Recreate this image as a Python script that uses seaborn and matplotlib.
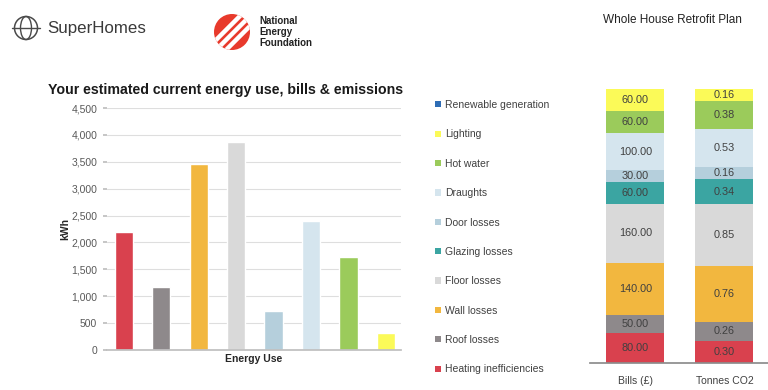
import numpy as np
import pandas as pd
import matplotlib
matplotlib.use("Agg")
import matplotlib.pyplot as plt
import seaborn as sns
from matplotlib.patches import Patch, Circle, Ellipse

sns.set_theme(style="white")
plt.rcParams['font.family'] = ['Liberation Sans', 'DejaVu Sans']

# ---- data ----
use_categories = ["Heating inefficiencies", "Roof losses", "Wall losses", "Floor losses",
                  "Door losses", "Draughts", "Hot water", "Lighting"]
use_kwh = [2200, 1170, 3450, 3870, 720, 2400, 1730, 310]

stack_categories = ["Heating inefficiencies", "Roof losses", "Wall losses", "Floor losses",
                    "Glazing losses", "Door losses", "Draughts", "Hot water", "Lighting"]
bills = [80.00, 50.00, 140.00, 160.00, 60.00, 30.00, 100.00, 60.00, 60.00]
tonnes_co2 = [0.30, 0.26, 0.76, 0.85, 0.34, 0.16, 0.53, 0.38, 0.16]
stack_groups = ["Bills (£)", "Tonnes CO2"]

legend_order = ["Renewable generation", "Lighting", "Hot water", "Draughts", "Door losses",
                "Glazing losses", "Floor losses", "Wall losses", "Roof losses",
                "Heating inefficiencies"]

colors = {
    "Heating inefficiencies": "#d9414e",
    "Roof losses": "#8e898b",
    "Wall losses": "#f2b73f",
    "Floor losses": "#d9d9d9",
    "Glazing losses": "#3ba5a2",
    "Door losses": "#b5cfdc",
    "Draughts": "#d5e5ee",
    "Hot water": "#9bcb5b",
    "Lighting": "#fbfa58",
    "Renewable generation": "#2f6db5",
}

W, H = 768, 390
fig = plt.figure(figsize=(W / 100, H / 100), dpi=100)
fig.patch.set_facecolor("white")

def box(x0, y0, x1, y1):
    # pixel box (top-left origin) -> figure fraction rect
    return [x0 / W, 1 - y1 / H, (x1 - x0) / W, (y1 - y0) / H]

# ---- left: energy use bars ----
ax = fig.add_axes(box(107, 108, 401, 350))
df_use = pd.DataFrame({"category": use_categories, "kwh": use_kwh})
sns.barplot(data=df_use, x="category", y="kwh", hue="category",
            palette=[colors[c] for c in use_categories], legend=False,
            width=0.49, saturation=1, ax=ax)
ax.set_xlim(-0.45, 7.4)
ax.set_ylim(0, 4500)
ax.set_yticks(range(0, 4501, 500))
ax.set_yticklabels([f"{v:,}" for v in range(0, 4501, 500)], fontsize=7.5, color="#595959")
ax.set_xticks([])
ax.yaxis.grid(True, color="#dedede", linewidth=0.8)
ax.set_axisbelow(True)
for s in ["top", "right", "left"]:
    ax.spines[s].set_visible(False)
ax.spines["bottom"].set_color("#bfbfbf")
ax.tick_params(axis="y", length=3, color="#bfbfbf", pad=4, left=True)
ax.set_xlabel("Energy Use", fontsize=7.5, fontweight="bold", color="#262626", labelpad=3)
ax.set_ylabel("kWh", fontsize=7.5, fontweight="bold", color="#262626", labelpad=1)

fig.text(48 / W, 1 - 90 / H, "Your estimated current energy use, bills & emissions",
         fontsize=10.2, fontweight="bold", color="#1a1a1a", va="center", ha="left")

# ---- legend ----
handles = [Patch(facecolor=colors[c], edgecolor="none", label=c) for c in legend_order]
fig.legend(handles=handles, loc="upper left", bbox_to_anchor=(435 / W, 1 - 100 / H),
           frameon=False, fontsize=7.5, labelspacing=1.86, handlelength=0.55,
           handleheight=0.55, handletextpad=0.45, borderpad=0, borderaxespad=0,
           labelcolor="#404040")

# ---- right: 100% stacked bars ----
axr = fig.add_axes(box(590, 89, 768, 363))
df_stack = pd.DataFrame({"Bills (£)": bills, "Tonnes CO2": tonnes_co2}, index=stack_categories)
frac = df_stack / df_stack.sum()
bottoms = frac.cumsum() - frac
xpos = np.arange(len(stack_groups))
for cat in stack_categories:
    bars = axr.bar(xpos, frac.loc[cat].values, bottom=bottoms.loc[cat].values, width=0.65,
                   color=colors[cat], edgecolor="none")
    vals = df_stack.loc[cat].values
    axr.bar_label(bars, labels=[f"{v:.2f}" for v in vals], label_type="center",
                  fontsize=7.8, color="#404040")
axr.set_xlim(-0.51, 1.49)
axr.set_ylim(0, 1)
axr.set_yticks([])
axr.set_xticks(xpos)
axr.set_xticklabels(stack_groups, fontsize=7.5, color="#404040")
axr.tick_params(axis="x", length=0, pad=9)
for s in ["top", "right", "left"]:
    axr.spines[s].set_visible(False)
axr.spines["bottom"].set_color("#8c8c8c")
axr.set_facecolor("none")

# ---- header ----
hdr = fig.add_axes([0, 0, 1, 1], zorder=-1)
hdr.set_xlim(0, W)
hdr.set_ylim(H, 0)
hdr.axis("off")

# SuperHomes globe icon
hdr.add_patch(Circle((26, 28), 11.5, fill=False, edgecolor="#4a4a4a", linewidth=1.1))
hdr.add_patch(Ellipse((26, 28), 11, 23, fill=False, edgecolor="#4a4a4a", linewidth=1.0))
hdr.plot([12, 40], [28, 28], color="#4a4a4a", linewidth=1.0)
fig.text(47 / W, 1 - 28 / H, "SuperHomes", fontsize=12.2, color="#3a3a3a", va="center")

# National Energy Foundation logo
c = Circle((232, 32), 18, facecolor="#e83a2c", edgecolor="none")
hdr.add_patch(c)
for off in [-10, 0, 10]:
    line, = hdr.plot([214 + off, 252 + off], [52, 14], color="white", linewidth=3.2,
                     solid_capstyle="butt")
    line.set_clip_path(c)
fig.text(259 / W, 1 - 32 / H, "National\nEnergy\nFoundation", fontsize=7.0,
         fontweight="bold", color="#222222", va="center", linespacing=1.15)

fig.text(672 / W, 1 - 20 / H, "Whole House Retrofit Plan", fontsize=8.5,
         color="#222222", va="center", ha="center")

fig.savefig("out.png", dpi=100, facecolor="white")
